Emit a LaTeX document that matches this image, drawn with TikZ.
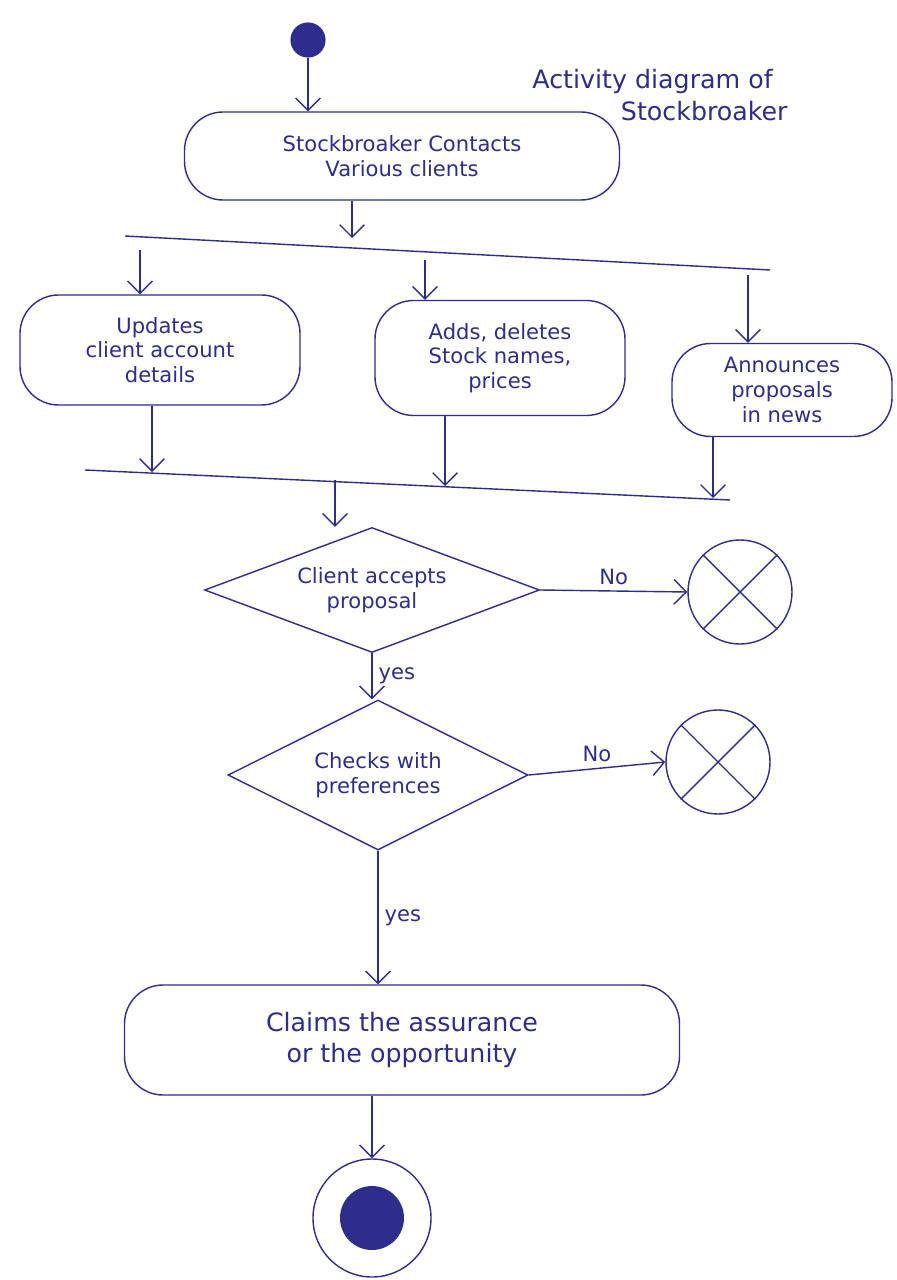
\documentclass[tikz,border=0pt]{standalone}
\usepackage{fontspec}
\setmainfont{DejaVu Sans}
\usetikzlibrary{arrows.meta,shapes.geometric}
\definecolor{ink}{RGB}{45,45,140}
\tikzset{
 act/.style={draw=ink,thick,rounded corners=22pt,align=center,text=ink,font=\large,inner sep=8pt},
 dec/.style={draw=ink,thick,diamond,aspect=2.6,align=center,text=ink,font=\large,inner sep=1pt},
 bar/.style={draw=ink,thick},
 arr/.style={draw=ink,thick,-{Straight Barb[length=7pt]}},
 lab/.style={text=ink,font=\large}
}
\begin{document}
\begin{tikzpicture}[x=0.02cm,y=-0.02cm]
\useasboundingbox[fill=white] (0,0) rectangle (896,1280);
\node[lab,align=left,font=\Large] (title) at (660,95) {Activity diagram of\\\hspace{3.5em}Stockbroaker};
\node[circle,fill=ink,minimum size=20pt,inner sep=0] (start) at (308,40) {};
\node[act,minimum width=435*0.02cm,minimum height=88*0.02cm] (n1) at (402,156) {Stockbroaker Contacts\\Various clients};
\coordinate (f1) at (352,238);
\draw[bar] (125,236) -- (770,270);
\node[act,minimum width=280*0.02cm,minimum height=110*0.02cm] (a) at (160,350) {Updates\\client account\\details};
\node[act,minimum width=250*0.02cm,minimum height=115*0.02cm] (b) at (500,358) {Adds, deletes\\Stock names,\\prices};
\node[act,minimum width=220*0.02cm,minimum height=92*0.02cm] (c) at (782,390) {Announces\\proposals\\in news};
\coordinate (fa) at (140,250); \coordinate (fb) at (425,260); \coordinate (fc) at (748,275);
\draw[bar] (85,470) -- (730,500);
\coordinate (ja) at (152,472); \coordinate (jb) at (445,486); \coordinate (jc) at (713,498);
\coordinate (j1) at (335,480);
\node[dec,minimum width=335*0.02cm,minimum height=125*0.02cm] (d1) at (372,590) {Client accepts\\proposal};
\node[dec,minimum width=300*0.02cm,minimum height=150*0.02cm] (d2) at (378,775) {Checks with\\preferences};
\node[draw=ink,thick,circle,minimum size=104*0.02cm] (x1) at (740,592) {};
\node[draw=ink,thick,circle,minimum size=104*0.02cm] (x2) at (718,762) {};
\draw[ink,thick] (x1.north west)--(x1.south east) (x1.north east)--(x1.south west);
\draw[ink,thick] (x2.north west)--(x2.south east) (x2.north east)--(x2.south west);
\node[act,minimum width=555*0.02cm,minimum height=110*0.02cm,font=\Large] (e) at (402,1040) {Claims the assurance\\or the opportunity};
\node[draw=ink,thick,circle,minimum size=118*0.02cm] (endo) at (372,1218) {};
\node[circle,fill=ink,minimum size=64*0.02cm] (endi) at (372,1218) {};
\draw[arr] (start) -- (start |- n1.north);
\draw[arr] (n1.south -| f1) -- (f1);
\draw[arr] (fa) -- (a.north -| fa);
\draw[arr] (fb) -- (b.north -| fb);
\draw[arr] (fc) -- (c.north -| fc);
\draw[arr] (a.south -| ja) -- (ja);
\draw[arr] (b.south -| jb) -- (jb);
\draw[arr] (c.south -| jc) -- (jc);
\draw[arr] (j1) -- (d1.north -| j1);
\draw[arr] (d1.east) -- node[lab,above]{No} (x1.west);
\draw[arr] (d2.east) -- node[lab,above]{No} (x2.west);
\draw[arr] (d1.south) -- node[lab,right]{yes} (d1.south |- d2.north);
\draw[arr] (d2.south) -- node[lab,right]{yes} (e.north -| d2.south);
\draw[arr] (e.south -| endo) -- (endo);
\end{tikzpicture}
\end{document}
